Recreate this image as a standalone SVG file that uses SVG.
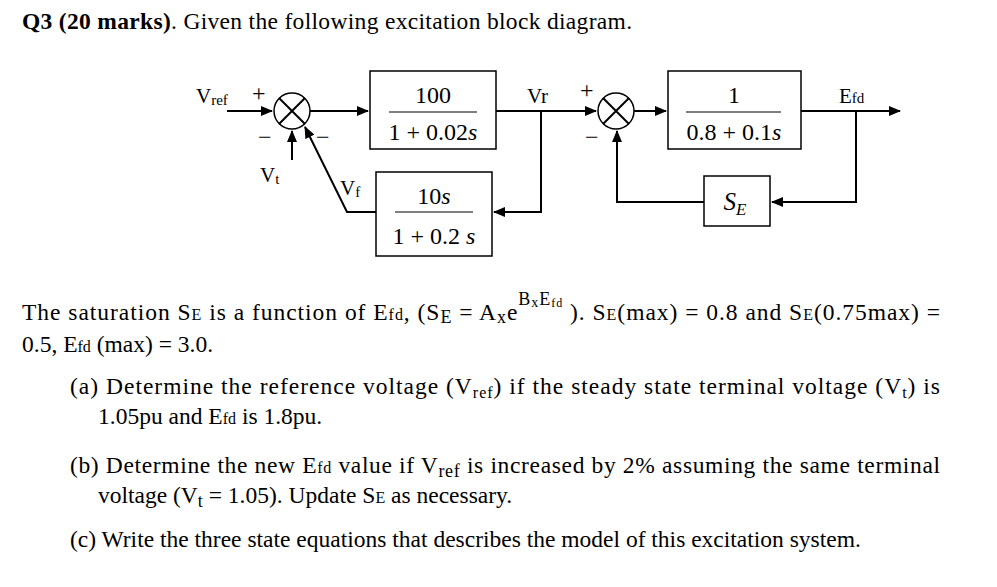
<svg xmlns="http://www.w3.org/2000/svg" width="997" height="587" viewBox="0 0 997 587">
<style>
text{font-family:"Liberation Serif",serif;fill:#000}
.t{font-size:23.5px}
.d{font-size:24px}
.e{font-size:21px}
.l{stroke:#000;stroke-width:2;fill:none}
.b{stroke:#000;stroke-width:1.5;fill:#fff}
</style>
<defs><marker id="a" markerWidth="12" markerHeight="10" refX="11" refY="5" orient="auto" markerUnits="userSpaceOnUse"><path d="M0,0L12,5L0,10z" fill="#000"/></marker></defs>
<rect width="997" height="587" fill="#fff"/>
<text x="22" y="29" class="t" textLength="610"><tspan font-weight="bold">Q3 (20 marks)</tspan>. Given the following excitation block diagram.</text>
<g id="connectors" class="l">
<path d="M227,111H272" marker-end="url(#a)"/>
<path d="M292,160V131" marker-end="url(#a)"/>
<path d="M376,212H347L305,127" marker-end="url(#a)"/>
<path d="M310,111H368" marker-end="url(#a)"/>
<path d="M496,111H596" marker-end="url(#a)"/>
<path d="M541,111V212H494" marker-end="url(#a)"/>
<path d="M634,111H666" marker-end="url(#a)"/>
<path d="M801,111H900" marker-end="url(#a)"/>
<path d="M856,111V202H772" marker-end="url(#a)"/>
<path d="M704,202H617V131" marker-end="url(#a)"/>
</g>
<g id="sum1"><circle cx="292" cy="111" r="18" class="b"/><path d="M279,98L305,124M305,98L279,124" class="l" stroke-width="1.5"/></g>
<g id="sum2"><circle cx="616" cy="111" r="18" class="b"/><path d="M603,98L629,124M629,98L603,124" class="l" stroke-width="1.5"/></g>
<g id="box1"><rect x="370" y="71" width="126" height="78" class="b"/><text x="433" y="103" class="d" text-anchor="middle">100</text><path d="M389,112H477" stroke="#000"/><text x="433" y="140" class="d" text-anchor="middle">1 + 0.02<tspan font-style="italic">s</tspan></text></g>
<g id="box3"><rect x="376" y="172" width="116" height="84" class="b"/><text x="434" y="204" class="d" text-anchor="middle">10<tspan font-style="italic">s</tspan></text><path d="M395,212H473" stroke="#000"/><text x="434" y="244" class="d" text-anchor="middle">1 + 0.2<tspan font-style="italic"> s</tspan></text></g>
<g id="box2"><rect x="668" y="71" width="133" height="78" class="b"/><text x="734" y="103" class="d" text-anchor="middle">1</text><path d="M686,112H781" stroke="#000"/><text x="734" y="140" class="d" text-anchor="middle">0.8 + 0.1<tspan font-style="italic">s</tspan></text></g>
<g id="se"><rect x="704" y="176" width="66" height="50" class="b"/><text x="735" y="210" font-size="25" font-style="italic" text-anchor="middle">S<tspan font-size="17" dy="5">E</tspan></text></g>
<g id="labels">
<text x="196" y="103" class="e">V<tspan font-size="15" dy="2">ref</tspan></text>
<text x="252" y="101" class="d">+</text>
<text x="258" y="145" class="d">−</text>
<text x="316" y="145" class="d">−</text>
<text x="260" y="182" class="e">V<tspan font-size="15" dy="2">t</tspan></text>
<text x="340" y="195" class="e">V<tspan font-size="15" dy="2">f</tspan></text>
<text x="527" y="103" class="e">Vr</text>
<text x="580" y="98" class="d">+</text>
<text x="585" y="145" class="d">−</text>
<text x="839" y="103" class="e">E<tspan font-size="15">fd</tspan></text>
</g>
<g id="body" class="t">
<text x="22" y="320" textLength="918">The saturation S<tspan font-size="16">E</tspan> is a function of E<tspan font-size="16">fd</tspan>, (S<tspan font-size="18" dy="3">E</tspan><tspan dy="-3"> = A</tspan><tspan font-size="18" dy="3">x</tspan><tspan dy="-3">e</tspan><tspan font-size="18" dy="-15">B</tspan><tspan font-size="14" dy="2">x</tspan><tspan font-size="18" dy="-2">E</tspan><tspan font-size="12" dy="2">fd</tspan><tspan dy="13"> ). S</tspan><tspan font-size="16">E</tspan>(max) = 0.8 and S<tspan font-size="16">E</tspan>(0.75max) =</text>
<text x="22" y="352">0.5, E<tspan font-size="16">fd</tspan> (max) = 3.0.</text>
<text x="70" y="394" textLength="870">(a) Determine the reference voltage (V<tspan font-size="16" dy="4">ref</tspan><tspan dy="-4">) if the steady state terminal voltage (V</tspan><tspan font-size="16" dy="4">t</tspan><tspan dy="-4">) is</tspan></text>
<text x="98" y="424">1.05pu and E<tspan font-size="16">fd</tspan> is 1.8pu.</text>
<text x="70" y="473" textLength="870">(b) Determine the new E<tspan font-size="16">fd</tspan> value if V<tspan font-size="18" dy="4">ref</tspan><tspan dy="-4"> is increased by 2% assuming the same terminal</tspan></text>
<text x="98" y="503">voltage (V<tspan font-size="18" dy="4">t</tspan><tspan dy="-4"> = 1.05). Update S</tspan><tspan font-size="16">E</tspan> as necessary.</text>
<text x="70" y="547">(c) Write the three state equations that describes the model of this excitation system.</text>
</g>
</svg>
